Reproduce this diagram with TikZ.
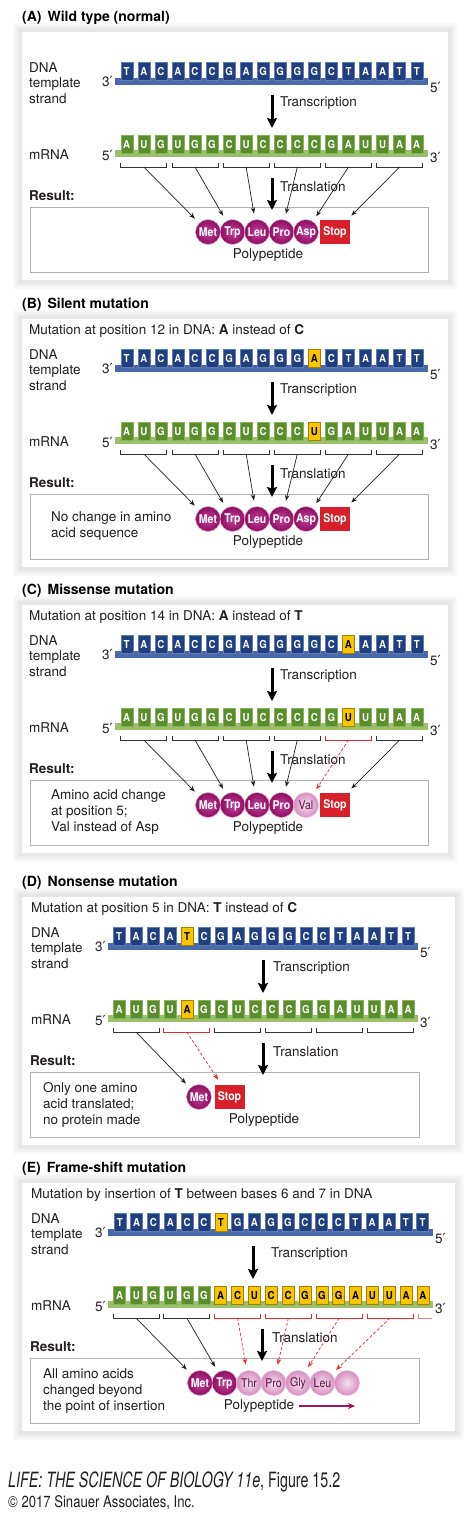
\documentclass[tikz,border=0pt]{standalone}
\usepackage{fontspec}
\setmainfont{TeX Gyre Heros}
\newfontfamily\condfont[FakeStretch=0.88]{TeX Gyre Heros}
\newfontfamily\footfont[FakeStretch=0.68]{TeX Gyre Heros}
\newfontfamily\copyfont[FakeStretch=0.82]{TeX Gyre Heros}
\newfontfamily\primefont{DejaVu Sans}
\newcommand{\pr}{{\primefont\fontsize{14}{15}\selectfont ′}}
\usetikzlibrary{arrows.meta, positioning}
\definecolor{txt}{HTML}{231F20}
\definecolor{dnabase}{HTML}{1F3F7E}
\definecolor{dnaedge}{HTML}{5F7DB5}
\definecolor{dnabar}{HTML}{4A69A8}
\definecolor{rnabase}{HTML}{5A8E2C}
\definecolor{rnaedge}{HTML}{86B25A}
\definecolor{rnabar}{HTML}{9CBF6B}
\definecolor{mutyel}{HTML}{F7C600}
\definecolor{mutedge}{HTML}{A87F00}
\definecolor{stopred}{HTML}{D7202A}
\definecolor{aadark}{HTML}{8E0E5E}
\definecolor{aamid}{HTML}{C3409A}
\definecolor{aaline}{HTML}{E9B7D6}
\definecolor{aalite}{HTML}{D68EBF}
\definecolor{aapale}{HTML}{F8E2F0}
\definecolor{aatext}{HTML}{5B1644}
\definecolor{mutred}{HTML}{E62A2F}
\definecolor{polycolor}{HTML}{A0125E}

\begin{document}
\begin{tikzpicture}[x=1pt, y=-1pt,
    title/.style={anchor=west, inner sep=0, text=black, font=\fontsize{14}{16}\selectfont\bfseries},
    lbl/.style={anchor=west, inner sep=0, align=left, text=txt, font=\fontsize{13.5}{15.5}\selectfont},
    reslbl/.style={lbl, font=\fontsize{13.5}{15.5}\selectfont\bfseries},
    side/.style={lbl, font=\fontsize{13.5}{16}\selectfont},
    prime/.style={inner sep=0, text=txt, font=\fontsize{13.5}{15}\selectfont},
    dna/.style={anchor=north, fill=dnabase, draw=dnaedge, line width=0.4pt,
                minimum width=12pt, minimum height=18pt, inner sep=0, text=white,
                font=\condfont\bfseries\fontsize{11}{12}\selectfont},
    rna/.style={dna, fill=rnabase, draw=rnaedge},
    mut/.style={dna, fill=mutyel, draw=mutedge, text=black},
    aa/.style={circle, minimum size=25pt, inner sep=0, inner color=aamid, outer color=aadark,
               draw=aaline, line width=0.5pt, text=white,
               font=\condfont\bfseries\fontsize{12}{13}\selectfont},
    aanew/.style={aa, inner color=aapale, outer color=aalite, text=aatext,
                  font=\condfont\fontsize{12}{13}\selectfont},
    stopbox/.style={fill=stopred, minimum width=30pt, minimum height=24pt, inner sep=0,
                    text=white, font=\condfont\bfseries\fontsize{12}{13}\selectfont},
    bigarr/.style={line width=3pt, -{Stealth[length=10pt, width=10pt, inset=1.5pt]}},
    codon/.style={line width=0.7pt, draw=txt, -{Stealth[length=6pt, width=4.5pt]}, shorten >=6pt},
    mutarr/.style={codon, draw=mutred, dash pattern=on 3pt off 2pt},
    br/.style={line width=0.8pt, draw=black!80},
    mutbr/.style={br, draw=mutred},
    resbox/.style={draw=black!30, line width=0.8pt}
]

\fill[white] (0,0) rectangle (474,1520);
\useasboundingbox (0,0) rectangle (474,1520);

% ===== (A) Wild type =====
\begin{scope}
    \foreach \s in {9,7,5,3}
        \fill[black, opacity=0.025] (22-\s,32-\s) rectangle (448+\s,280+\s);
    \fill[white] (22,32) rectangle (448,280);
    \node[title] (A-title) at (22,18) {(A)\hspace{6pt}Wild type (normal)};

    % DNA
    \node[lbl] (A-dnalbl) at (29,83) {DNA\\template\\strand};
    \fill[dnabar] (115,78) rectangle (428,85);
    \foreach \b/\s [count=\i] in {T/dna,A/dna,C/dna,A/dna,C/dna,C/dna,G/dna,A/dna,G/dna,
                                   G/dna,G/dna,G/dna,C/dna,T/dna,A/dna,A/dna,T/dna,T/dna}
        \node[\s] (A-d\i) at ({126.7+17.06*(\i-1)},62) {\b};
    \node[prime, anchor=east] (A-d3end) at (113,81) {3\pr};
    \node[prime, anchor=west] (A-d5end) at (430,87) {5\pr};

    % transcription
    \coordinate (A-tr1) at (272,95);
    \coordinate (A-tr2) at (272,128);
    \draw[bigarr] (A-tr1) -- (A-tr2);
    \node[lbl] (A-trlbl) at (280,103) {Transcription};

    % mRNA
    \node[lbl] (A-rnalbl) at (29,155) {mRNA};
    \fill[rnabar] (115,150) rectangle (428,157);
    \foreach \b/\s [count=\i] in {A/rna,U/rna,G/rna,U/rna,G/rna,G/rna,C/rna,U/rna,C/rna,
                                   C/rna,C/rna,C/rna,G/rna,A/rna,U/rna,U/rna,A/rna,A/rna}
        \node[\s] (A-r\i) at ({126.7+17.06*(\i-1)},135) {\b};
    \node[prime, anchor=east] (A-r5end) at (113,155) {5\pr};
    \node[prime, anchor=west] (A-r3end) at (430,157) {3\pr};

    % codons
    \foreach \k/\s in {1/br,2/br,3/br,4/br,5/br,6/br}{
        \pgfmathsetmacro\xc{143.8+51.18*(\k-1)}
        \draw[\s] (\xc-23,163) -- (\xc-23,167) -- (\xc+23,167) -- (\xc+23,163);
        \coordinate (A-c\k) at (\xc,167);
    }

    % result
    \node[reslbl] (A-res) at (29,196) {Result:};
    \draw[resbox] (30,207) rectangle (428,272);
    \coordinate (A-tl1) at (272,178);
    \coordinate (A-tl2) at (272,210);
    \draw[bigarr] (A-tl1) -- (A-tl2);
    \node[lbl] (A-tllbl) at (280,187) {Translation};
    \foreach \n/\a/\s [count=\k] in {met/Met/aa,trp/Trp/aa,leu/Leu/aa,pro/Pro/aa,asp/Asp/aa}
        \node[\s] (A-\n) at ({208+24.5*(\k-1)},232) {\a};
    \node[stopbox] (A-stop) at (335,232) {Stop};
    \node[lbl, anchor=center] (A-poly) at (268,255) {Polypeptide};
    \foreach \n/\s [count=\k] in {met/codon,trp/codon,leu/codon,pro/codon,asp/codon,stop/codon}
        \draw[\s] (A-c\k) -- (A-\n);
\end{scope}

% ===== (B) Silent mutation =====
\begin{scope}[shift={(0,287)}]
    \foreach \s in {9,7,5,3}
        \fill[black, opacity=0.025] (22-\s,32-\s) rectangle (448+\s,280+\s);
    \fill[white] (22,32) rectangle (448,280);
    \node[title] (B-title) at (22,18) {(B)\hspace{6pt}Silent mutation};
    \node[lbl] (B-mutlbl) at (29,44) {Mutation at position 12 in DNA: \textbf{A} instead of \textbf{C}};

    % DNA
    \node[lbl] (B-dnalbl) at (29,83) {DNA\\template\\strand};
    \fill[dnabar] (115,78) rectangle (428,85);
    \foreach \b/\s [count=\i] in {T/dna,A/dna,C/dna,A/dna,C/dna,C/dna,G/dna,A/dna,G/dna,
                                   G/dna,G/dna,A/mut,C/dna,T/dna,A/dna,A/dna,T/dna,T/dna}
        \node[\s] (B-d\i) at ({126.7+17.06*(\i-1)},62) {\b};
    \node[prime, anchor=east] (B-d3end) at (113,81) {3\pr};
    \node[prime, anchor=west] (B-d5end) at (430,87) {5\pr};

    % transcription
    \coordinate (B-tr1) at (272,95);
    \coordinate (B-tr2) at (272,128);
    \draw[bigarr] (B-tr1) -- (B-tr2);
    \node[lbl] (B-trlbl) at (280,103) {Transcription};

    % mRNA
    \node[lbl] (B-rnalbl) at (29,155) {mRNA};
    \fill[rnabar] (115,150) rectangle (428,157);
    \foreach \b/\s [count=\i] in {A/rna,U/rna,G/rna,U/rna,G/rna,G/rna,C/rna,U/rna,C/rna,
                                   C/rna,C/rna,U/mut,G/rna,A/rna,U/rna,U/rna,A/rna,A/rna}
        \node[\s] (B-r\i) at ({126.7+17.06*(\i-1)},135) {\b};
    \node[prime, anchor=east] (B-r5end) at (113,155) {5\pr};
    \node[prime, anchor=west] (B-r3end) at (430,157) {3\pr};

    % codons
    \foreach \k/\s in {1/br,2/br,3/br,4/br,5/br,6/br}{
        \pgfmathsetmacro\xc{143.8+51.18*(\k-1)}
        \draw[\s] (\xc-23,163) -- (\xc-23,167) -- (\xc+23,167) -- (\xc+23,163);
        \coordinate (B-c\k) at (\xc,167);
    }

    % result
    \node[reslbl] (B-res) at (29,196) {Result:};
    \draw[resbox] (30,207) rectangle (428,272);
    \coordinate (B-tl1) at (272,178);
    \coordinate (B-tl2) at (272,210);
    \draw[bigarr] (B-tl1) -- (B-tl2);
    \node[lbl] (B-tllbl) at (280,187) {Translation};
    \node[side] (B-side) at (51,239) {No change in amino\\acid sequence};
    \foreach \n/\a/\s [count=\k] in {met/Met/aa,trp/Trp/aa,leu/Leu/aa,pro/Pro/aa,asp/Asp/aa}
        \node[\s] (B-\n) at ({208+24.5*(\k-1)},232) {\a};
    \node[stopbox] (B-stop) at (335,232) {Stop};
    \node[lbl, anchor=center] (B-poly) at (268,255) {Polypeptide};
    \foreach \n/\s [count=\k] in {met/codon,trp/codon,leu/codon,pro/codon,asp/codon,stop/codon}
        \draw[\s] (B-c\k) -- (B-\n);
\end{scope}

% ===== (C) Missense mutation =====
\begin{scope}[shift={(0,573)}]
    \foreach \s in {9,7,5,3}
        \fill[black, opacity=0.025] (22-\s,32-\s) rectangle (448+\s,280+\s);
    \fill[white] (22,32) rectangle (448,280);
    \node[title] (C-title) at (22,18) {(C)\hspace{6pt}Missense mutation};
    \node[lbl] (C-mutlbl) at (29,44) {Mutation at position 14 in DNA: \textbf{A} instead of \textbf{T}};

    % DNA
    \node[lbl] (C-dnalbl) at (29,83) {DNA\\template\\strand};
    \fill[dnabar] (115,78) rectangle (428,85);
    \foreach \b/\s [count=\i] in {T/dna,A/dna,C/dna,A/dna,C/dna,C/dna,G/dna,A/dna,G/dna,
                                   G/dna,G/dna,G/dna,C/dna,A/mut,A/dna,A/dna,T/dna,T/dna}
        \node[\s] (C-d\i) at ({126.7+17.06*(\i-1)},62) {\b};
    \node[prime, anchor=east] (C-d3end) at (113,81) {3\pr};
    \node[prime, anchor=west] (C-d5end) at (430,87) {5\pr};

    % transcription
    \coordinate (C-tr1) at (272,95);
    \coordinate (C-tr2) at (272,128);
    \draw[bigarr] (C-tr1) -- (C-tr2);
    \node[lbl] (C-trlbl) at (280,103) {Transcription};

    % mRNA
    \node[lbl] (C-rnalbl) at (29,155) {mRNA};
    \fill[rnabar] (115,150) rectangle (428,157);
    \foreach \b/\s [count=\i] in {A/rna,U/rna,G/rna,U/rna,G/rna,G/rna,C/rna,U/rna,C/rna,
                                   C/rna,C/rna,C/rna,G/rna,U/mut,U/rna,U/rna,A/rna,A/rna}
        \node[\s] (C-r\i) at ({126.7+17.06*(\i-1)},135) {\b};
    \node[prime, anchor=east] (C-r5end) at (113,155) {5\pr};
    \node[prime, anchor=west] (C-r3end) at (430,157) {3\pr};

    % codons
    \foreach \k/\s in {1/br,2/br,3/br,4/br,5/mutbr,6/br}{
        \pgfmathsetmacro\xc{143.8+51.18*(\k-1)}
        \draw[\s] (\xc-23,163) -- (\xc-23,167) -- (\xc+23,167) -- (\xc+23,163);
        \coordinate (C-c\k) at (\xc,167);
    }

    % result
    \node[reslbl] (C-res) at (29,196) {Result:};
    \draw[resbox] (30,207) rectangle (428,272);
    \coordinate (C-tl1) at (272,178);
    \coordinate (C-tl2) at (272,210);
    \draw[bigarr] (C-tl1) -- (C-tl2);
    \node[lbl] (C-tllbl) at (280,187) {Translation};
    \node[side] (C-side) at (51,239) {Amino acid change\\at position 5;\\Val instead of Asp};
    \foreach \n/\a/\s [count=\k] in {met/Met/aa,trp/Trp/aa,leu/Leu/aa,pro/Pro/aa,val/Val/aanew}
        \node[\s] (C-\n) at ({208+24.5*(\k-1)},232) {\a};
    \node[stopbox] (C-stop) at (335,232) {Stop};
    \node[lbl, anchor=center] (C-poly) at (268,255) {Polypeptide};
    \foreach \n/\s [count=\k] in {met/codon,trp/codon,leu/codon,pro/codon,val/mutarr,stop/codon}
        \draw[\s] (C-c\k) -- (C-\n);
\end{scope}

% ===== (D) Nonsense mutation =====
\begin{scope}[shift={(0,865)}]
    \foreach \s in {9,7,5,3}
        \fill[black, opacity=0.025] (22-\s,32-\s) rectangle (455+\s,280+\s);
    \fill[white] (22,32) rectangle (455,280);
    \node[title] (D-title) at (22,18) {(D)\hspace{6pt}Nonsense mutation};
    \node[lbl] (D-mutlbl) at (31,44) {Mutation at position 5 in DNA: \textbf{T} instead of \textbf{C}};

    % DNA
    \node[lbl] (D-dnalbl) at (31,83) {DNA\\template\\strand};
    \fill[dnabar] (108,78) rectangle (418,85);
    \foreach \b/\s [count=\i] in {T/dna,A/dna,C/dna,A/dna,T/mut,C/dna,G/dna,A/dna,G/dna,
                                   G/dna,G/dna,C/dna,C/dna,T/dna,A/dna,A/dna,T/dna,T/dna}
        \node[\s] (D-d\i) at ({119+17*(\i-1)},62) {\b};
    \node[prime, anchor=east] (D-d3end) at (106,81) {3\pr};
    \node[prime, anchor=west] (D-d5end) at (420,87) {5\pr};

    % transcription
    \coordinate (D-tr1) at (263,95);
    \coordinate (D-tr2) at (263,128);
    \draw[bigarr] (D-tr1) -- (D-tr2);
    \node[lbl] (D-trlbl) at (273,103) {Transcription};

    % mRNA
    \node[lbl] (D-rnalbl) at (31,155) {mRNA};
    \fill[rnabar] (108,150) rectangle (418,157);
    \foreach \b/\s [count=\i] in {A/rna,U/rna,G/rna,U/rna,A/mut,G/rna,C/rna,U/rna,C/rna,
                                   C/rna,C/rna,G/rna,G/rna,A/rna,U/rna,U/rna,A/rna,A/rna}
        \node[\s] (D-r\i) at ({119+17*(\i-1)},135) {\b};
    \node[prime, anchor=east] (D-r5end) at (106,155) {5\pr};
    \node[prime, anchor=west] (D-r3end) at (420,157) {3\pr};

    % codons
    \foreach \k/\s in {1/br,2/mutbr,3/br,4/br,5/br,6/br}{
        \pgfmathsetmacro\xc{136+50.8*(\k-1)}
        \draw[\s] (\xc-23,163) -- (\xc-23,167) -- (\xc+23,167) -- (\xc+23,163);
        \coordinate (D-c\k) at (\xc,167);
    }

    % result
    \node[reslbl] (D-res) at (30,196) {Result:};
    \draw[resbox] (30,207) rectangle (419,272);
    \coordinate (D-tl1) at (263,178);
    \coordinate (D-tl2) at (263,210);
    \draw[bigarr] (D-tl1) -- (D-tl2);
    \node[lbl] (D-tllbl) at (273,187) {Translation};
    \node[side] (D-side) at (43,240) {Only one amino\\acid translated;\\no protein made};
    \node[aa] (D-met) at (199,232) {Met};
    \node[stopbox] (D-stop) at (229.5,232) {Stop};
    \node[lbl, anchor=center] (D-poly) at (264,255) {Polypeptide};
    \draw[codon] (D-c1) -- (D-met);
    \draw[mutarr] (D-c2) -- (D-stop);
\end{scope}

% ===== (E) Frame-shift mutation =====
\begin{scope}[shift={(0,1151)}]
    \foreach \s in {9,7,5,3}
        \fill[black, opacity=0.025] (22-\s,32-\s) rectangle (455+\s,280+\s);
    \fill[white] (22,32) rectangle (455,280);
    \node[title] (E-title) at (22,18) {(E)\hspace{6pt}Frame-shift mutation};
    \node[lbl] (E-mutlbl) at (31,44) {Mutation by insertion of \textbf{T} between bases 6 and 7 in DNA};

    % DNA
    \node[lbl] (E-dnalbl) at (31,83) {DNA\\template\\strand};
    \fill[dnabar] (108,78) rectangle (433,85);
    \foreach \b/\s [count=\i] in {T/dna,A/dna,C/dna,A/dna,C/dna,C/dna,T/mut,G/dna,A/dna,G/dna,
                                   G/dna,C/dna,C/dna,C/dna,T/dna,A/dna,A/dna,T/dna,T/dna}
        \node[\s] (E-d\i) at ({119.8+16.82*(\i-1)},62) {\b};
    \node[prime, anchor=east] (E-d3end) at (106,81) {3\pr};
    \node[prime, anchor=west] (E-d5end) at (435,87) {5\pr};

    % transcription
    \coordinate (E-tr1) at (253,95);
    \coordinate (E-tr2) at (253,128);
    \draw[bigarr] (E-tr1) -- (E-tr2);
    \node[lbl] (E-trlbl) at (271,103) {Transcription};

    % mRNA
    \node[lbl] (E-rnalbl) at (31,155) {mRNA};
    \fill[rnabar] (108,150) rectangle (433,157);
    \foreach \b/\s [count=\i] in {A/rna,U/rna,G/rna,U/rna,G/rna,G/rna,A/mut,C/mut,U/mut,C/mut,
                                   C/mut,G/mut,G/mut,G/mut,A/mut,U/mut,U/mut,A/mut,A/mut}
        \node[\s] (E-r\i) at ({119.5+16.86*(\i-1)},135) {\b};
    \node[prime, anchor=east] (E-r5end) at (106,155) {5\pr};
    \node[prime, anchor=west] (E-r3end) at (435,157) {3\pr};

    % codons
    \foreach \k/\s in {1/br,2/br,3/mutbr,4/mutbr,5/mutbr,6/mutbr}{
        \pgfmathsetmacro\xc{136+50.8*(\k-1)}
        \draw[\s] (\xc-23,163) -- (\xc-23,167) -- (\xc+23,167) -- (\xc+23,163);
        \coordinate (E-c\k) at (\xc,167);
    }
    \draw[mutbr, draw=mutred!60] (418,163) -- (418,167) -- (432,167);

    % result
    \node[reslbl] (E-res) at (30,196) {Result:};
    \draw[resbox] (30,207) rectangle (419,272);
    \coordinate (E-tl1) at (262,178);
    \coordinate (E-tl2) at (262,210);
    \draw[bigarr] (E-tl1) -- (E-tl2);
    \node[lbl] (E-tllbl) at (272,187) {Translation};
    \node[side] (E-side) at (43,240) {All amino acids\\changed beyond\\the point of insertion};
    \foreach \n/\a/\s [count=\k] in {met/Met/aa,trp/Trp/aa,thr/Thr/aanew,pro/Pro/aanew,
                                     gly/Gly/aanew,leu/Leu/aanew,blank//aanew}
        \node[\s] (E-\n) at ({200+24.5*(\k-1)},232) {\a};
    \node[lbl, anchor=center] (E-poly) at (259,255) {Polypeptide};
    \coordinate (E-pend) at (355,255);
    \draw[line width=1.5pt, polycolor, -{Stealth[length=7pt, width=6pt]}]
        ([xshift=5pt]E-poly.east) -- (E-pend);
    \foreach \n/\s [count=\k] in {met/codon,trp/codon,thr/mutarr,pro/mutarr,gly/mutarr,leu/mutarr}
        \draw[\s] (E-c\k) -- (E-\n);
\end{scope}

% credit line
\node[anchor=west, inner sep=0, text=txt, font=\footfont\fontsize{21}{24}\selectfont]
    (credit) at (8,1482) {\textit{LIFE: THE SCIENCE OF BIOLOGY 11e}, Figure 15.2};
\node[anchor=west, inner sep=0, text=txt, font=\copyfont\fontsize{16}{18}\selectfont]
    (copyright) at (8,1503) {© 2017 Sinauer Associates, Inc.};

\end{tikzpicture}
\end{document}
